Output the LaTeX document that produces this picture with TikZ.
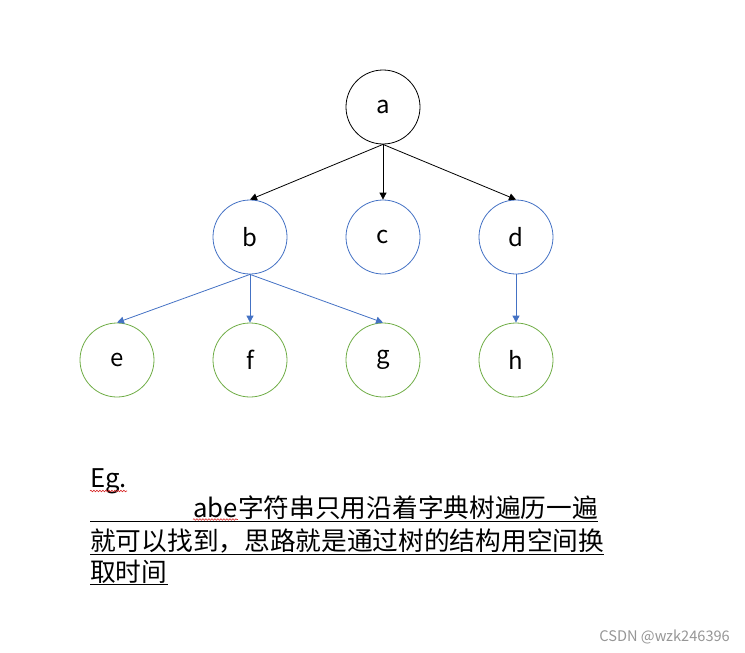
\documentclass[tikz,border=0pt]{standalone}
\usepackage{fontspec}
\setmainfont{Noto Sans CJK SC}
\usetikzlibrary{arrows.meta,decorations.pathmorphing}
\definecolor{nodeblue}{RGB}{68,114,196}
\definecolor{nodegreen}{RGB}{112,173,71}
\definecolor{markred}{RGB}{215,40,40}
\definecolor{markgray}{RGB}{150,150,150}

\begin{document}
\begin{tikzpicture}[x=1pt,y=-1pt]
\tikzstyle{every node}=[inner sep=0pt]
\tikzstyle{vertex}=[circle, draw, line width=0.8pt, minimum size=74pt, font=\fontsize{24}{24}\selectfont]
\tikzstyle{edge}=[line width=0.8pt, -{Triangle[length=7pt,width=7pt]}]
\tikzstyle{note}=[anchor=base west, font=\fontsize{25.7}{25.7}\selectfont]
\tikzstyle{wavy}=[markred, line width=0.6pt, decorate, decoration={snake, amplitude=0.8pt, segment length=3pt}]
\useasboundingbox (0,0) rectangle (745,653);
\draw (383,107) node (a) [vertex] {a};
\draw (250,237) node (b) [vertex,nodeblue,text=black] {b};
\draw (383,237) node (c) [vertex,nodeblue,text=black] {c};
\draw (516,237) node (d) [vertex,nodeblue,text=black] {d};
\draw (117,360) node (e) [vertex,nodegreen,text=black] {e};
\draw (250,360) node (f) [vertex,nodegreen,text=black] {f};
\draw (383,360) node (g) [vertex,nodegreen,text=black] {g};
\draw (516,360) node (h) [vertex,nodegreen,text=black] {h};
\draw [edge] (a.south) -- (b.north);
\draw [edge] (a.south) -- (c.north);
\draw [edge] (a.south) -- (d.north);
\draw [edge,nodeblue] (b.south) -- (e.north);
\draw [edge,nodeblue] (b.south) -- (f.north);
\draw [edge,nodeblue] (b.south) -- (g.north);
\draw [edge,nodeblue] (d.south) -- (h.north);
% note below the tree
\draw (90,487) node (eg) [note] {Eg.};
\draw (193,517) node (abe) [note] {abe};
\draw (abe.base east) node (l1) [note] {字符串只用沿着字典树遍历一遍};
\draw (90,550) node (l2) [note] {就可以找到，思路就是通过树的结构用空间换};
\draw (90,581) node (l3) [note] {取时间};
\coordinate (u1) at (90,521);
\draw [line width=1pt] (u1) -- (u1 -| l1.east);
\draw [line width=1pt] ([yshift=-4pt]l2.base west) -- ([yshift=-4pt]l2.base east);
\draw [line width=1pt] ([yshift=-3pt]l3.base west) -- ([yshift=-3pt]l3.base east);
\draw [wavy] ([yshift=-4pt]eg.base west) -- ([yshift=-4pt]eg.base east);
\draw [wavy] ([yshift=-2.5pt]abe.base west) -- ([yshift=-2.5pt]abe.base east);
\draw (730,637) node (mark) [anchor=east, text=markgray, font=\fontsize{14.6}{14.6}\selectfont] {CSDN @wzk246396};
\end{tikzpicture}
\end{document}
